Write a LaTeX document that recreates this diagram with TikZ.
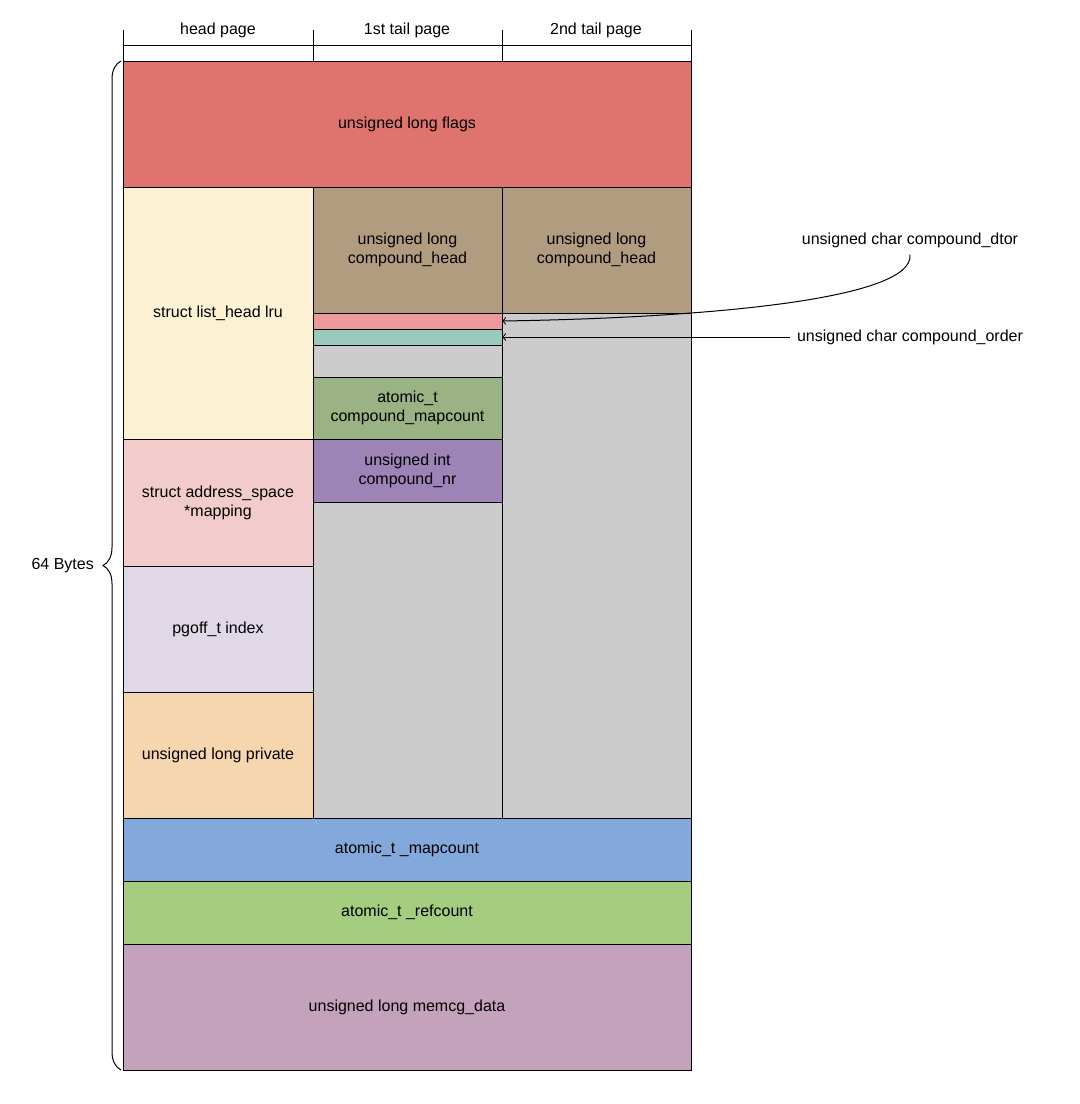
\documentclass[tikz,border=0pt]{standalone}
\usepackage{fontspec}
\setmainfont{Liberation Sans}
\usetikzlibrary{decorations.pathreplacing}
\definecolor{cflags}{HTML}{DF736D}
\definecolor{clru}{HTML}{FCF2D3}
\definecolor{cmapping}{HTML}{F2CCCC}
\definecolor{cindex}{HTML}{E1D8E7}
\definecolor{cprivate}{HTML}{F5D6AF}
\definecolor{cmapcnt}{HTML}{83A8DB}
\definecolor{crefcnt}{HTML}{A5CD80}
\definecolor{cmemcg}{HTML}{C5A2BB}
\definecolor{chead}{HTML}{B19C80}
\definecolor{cdtor}{HTML}{EC9B9A}
\definecolor{corder}{HTML}{9CC9BD}
\definecolor{cgray}{HTML}{CCCCCC}
\definecolor{ccmap}{HTML}{9BB384}
\definecolor{cnr}{HTML}{9C84B7}
\tikzset{
    cell/.style={draw=black, line width=0.5pt},
    txt/.style={align=center, font=\fontsize{8}{9.6}\selectfont}
}
\begin{document}
\begin{tikzpicture}[x=0.5pt, y=-0.5pt]
        \useasboundingbox (0,0) rectangle (1080,1104);
        % header
        \draw[line width=0.5pt] (123,30) -- (123,61) (313,30) -- (313,61) (502,30) -- (502,61) (691,30) -- (691,61) (123,45) -- (691,45);
        \node[txt] (hhead) at (218,30) {head page};
        \node[txt] (htail1) at (407,30) {1st tail page};
        \node[txt] (htail2) at (596,30) {2nd tail page};
        % full width rows
        \draw[cell, fill=cflags] (123,61) rectangle (691,187) node[midway,txt] (flags) {unsigned long flags};
        \draw[cell, fill=cmapcnt] (123,818) rectangle (691,881) node[midway,txt] (mapcount) {atomic\_t \_mapcount};
        \draw[cell, fill=crefcnt] (123,881) rectangle (691,944) node[midway,txt] (refcount) {atomic\_t \_refcount};
        \draw[cell, fill=cmemcg] (123,944) rectangle (691,1070) node[midway,txt] (memcg) {unsigned long memcg\_data};
        % head page
        \draw[cell, fill=clru] (123,187) rectangle (313,439) node[midway,txt] (lru) {struct list\_head lru};
        \draw[cell, fill=cmapping] (123,439) rectangle (313,566) node[midway,txt] (mapping) {struct address\_space\\*mapping};
        \draw[cell, fill=cindex] (123,566) rectangle (313,692) node[midway,txt] (index) {pgoff\_t index};
        \draw[cell, fill=cprivate] (123,692) rectangle (313,818) node[midway,txt] (private) {unsigned long private};
        % 1st tail page
        \draw[cell, fill=chead] (313,187) rectangle (502,313) node[midway,txt] (chead1) {unsigned long\\compound\_head};
        \draw[cell, fill=cdtor] (313,313) rectangle (502,329) coordinate[midway] (dtor);
        \draw[cell, fill=corder] (313,329) rectangle (502,345) coordinate[midway] (order);
        \draw[cell, fill=cgray] (313,345) rectangle (502,377);
        \draw[cell, fill=ccmap] (313,377) rectangle (502,439) node[midway,txt] (cmapcount) {atomic\_t\\compound\_mapcount};
        \draw[cell, fill=cnr] (313,439) rectangle (502,502) node[midway,txt] (cnr) {unsigned int\\compound\_nr};
        \draw[cell, fill=cgray] (313,502) rectangle (502,818);
        % 2nd tail page
        \draw[cell, fill=chead] (502,187) rectangle (691,313) node[midway,txt] (chead2) {unsigned long\\compound\_head};
        \draw[cell, fill=cgray] (502,313) rectangle (691,818);
        \coordinate (dtorend) at (502,321);
        \coordinate (orderend) at (502,337);
        % size brace
        \draw[line width=0.5pt, decorate, decoration={brace, amplitude=9pt}] (121,1070) -- (121,61) node[midway, left=10pt, txt] (size) {64 Bytes};
        % labels and arrows
        \node[txt] (ldtor) at (910,240) {unsigned char compound\_dtor};
        \node[txt] (lorder) at (910,337) {unsigned char compound\_order};
        \draw[->, line width=0.5pt] (ldtor.south) .. controls (915,300) and (700,318) .. (dtorend);
        \draw[->, line width=0.5pt] (lorder.west) -- (orderend);
    \end{tikzpicture}
\end{document}
